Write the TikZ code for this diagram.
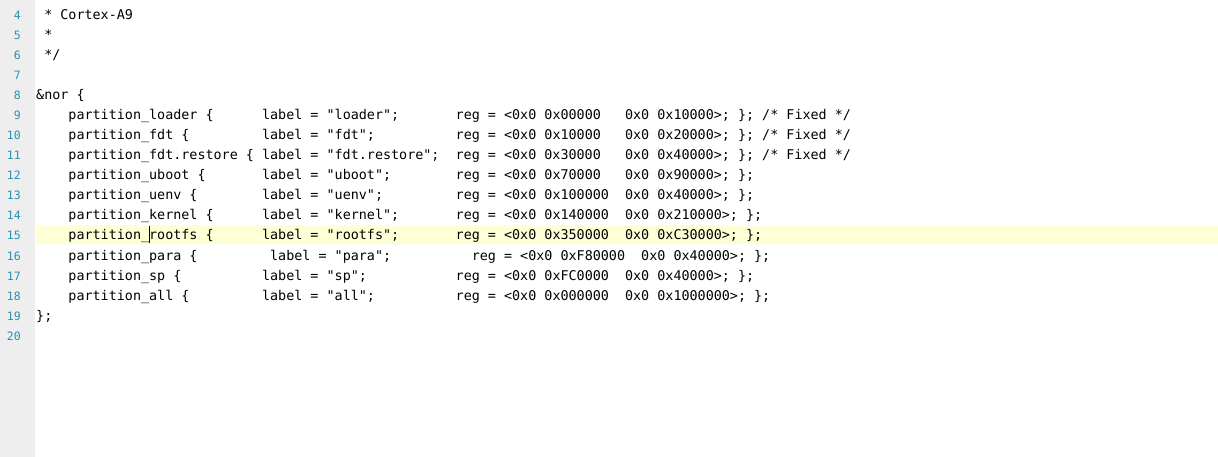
\documentclass[tikz,border=0pt]{standalone}
\usepackage{fontspec}
\newfontfamily\codefont{DejaVu Sans Mono}[Scale=1]
\definecolor{gutter}{HTML}{EEEEEE}
\definecolor{lnum}{HTML}{2B91AF}
\definecolor{hl}{HTML}{FFFFD5}
\tikzset{code/.style={anchor=base west,inner sep=0pt,font=\codefont\fontsize{13.4pt}{14pt}\selectfont,text=black},
lnumst/.style={anchor=base east,inner sep=0pt,font=\codefont\fontsize{11.5pt}{12pt}\selectfont,text=lnum}}
\begin{document}
\begin{tikzpicture}[x=1pt,y=-1pt]
\useasboundingbox (0,0) rectangle (1218,457);
\fill[white] (0,0) rectangle (1218,457);
\fill[gutter] (0,0) rectangle (35,457);
\fill[hl] (36,225) rectangle (1218,244);
\foreach \n [count=\i from 0] in {4,...,20}{
  \node[lnumst] (ln\n) at (21,20+20*\i) {\n};
}
\def\cx{36}
\node[code] (l4) at (\cx,20) {~*~Cortex-A9};
\node[code] (l5) at (\cx,40) {~*};
\node[code] (l6) at (\cx,60) {~*/};
\node[code] (l8) at (\cx,100) {\&nor~\{};
\node[code] (l9) at (\cx,120) {~~~~partition\_loader~\{~~~~~~label~=~"loader";~~~~~~~reg~=~<0x0~0x00000~~~0x0~0x10000>;~\};~/*~Fixed~*/};
\node[code] (l10) at (\cx,140) {~~~~partition\_fdt~\{~~~~~~~~~label~=~"fdt";~~~~~~~~~~reg~=~<0x0~0x10000~~~0x0~0x20000>;~\};~/*~Fixed~*/};
\node[code] (l11) at (\cx,160) {~~~~partition\_fdt.restore~\{~label~=~"fdt.restore";~~reg~=~<0x0~0x30000~~~0x0~0x40000>;~\};~/*~Fixed~*/};
\node[code] (l12) at (\cx,180) {~~~~partition\_uboot~\{~~~~~~~label~=~"uboot";~~~~~~~~reg~=~<0x0~0x70000~~~0x0~0x90000>;~\};};
\node[code] (l13) at (\cx,200) {~~~~partition\_uenv~\{~~~~~~~~label~=~"uenv";~~~~~~~~~reg~=~<0x0~0x100000~~0x0~0x40000>;~\};};
\node[code] (l14) at (\cx,220) {~~~~partition\_kernel~\{~~~~~~label~=~"kernel";~~~~~~~reg~=~<0x0~0x140000~~0x0~0x210000>;~\};};
\node[code] (l15) at (\cx,240) {~~~~partition\_rootfs~\{~~~~~~label~=~"rootfs";~~~~~~~reg~=~<0x0~0x350000~~0x0~0xC30000>;~\};};
\node[code] (l16) at (\cx,260) {~~~~partition\_para~\{~~~~~~~~~label~=~"para";~~~~~~~~~~reg~=~<0x0~0xF80000~~0x0~0x40000>;~\};};
\node[code] (l17) at (\cx,280) {~~~~partition\_sp~\{~~~~~~~~~~label~=~"sp";~~~~~~~~~~~reg~=~<0x0~0xFC0000~~0x0~0x40000>;~\};};
\node[code] (l18) at (\cx,300) {~~~~partition\_all~\{~~~~~~~~~label~=~"all";~~~~~~~~~~reg~=~<0x0~0x000000~~0x0~0x1000000>;~\};};
\node[code] (l19) at (\cx,320) {\};};
\draw[black,line width=1pt] (149,226) -- (149,243);
\end{tikzpicture}
\end{document}
